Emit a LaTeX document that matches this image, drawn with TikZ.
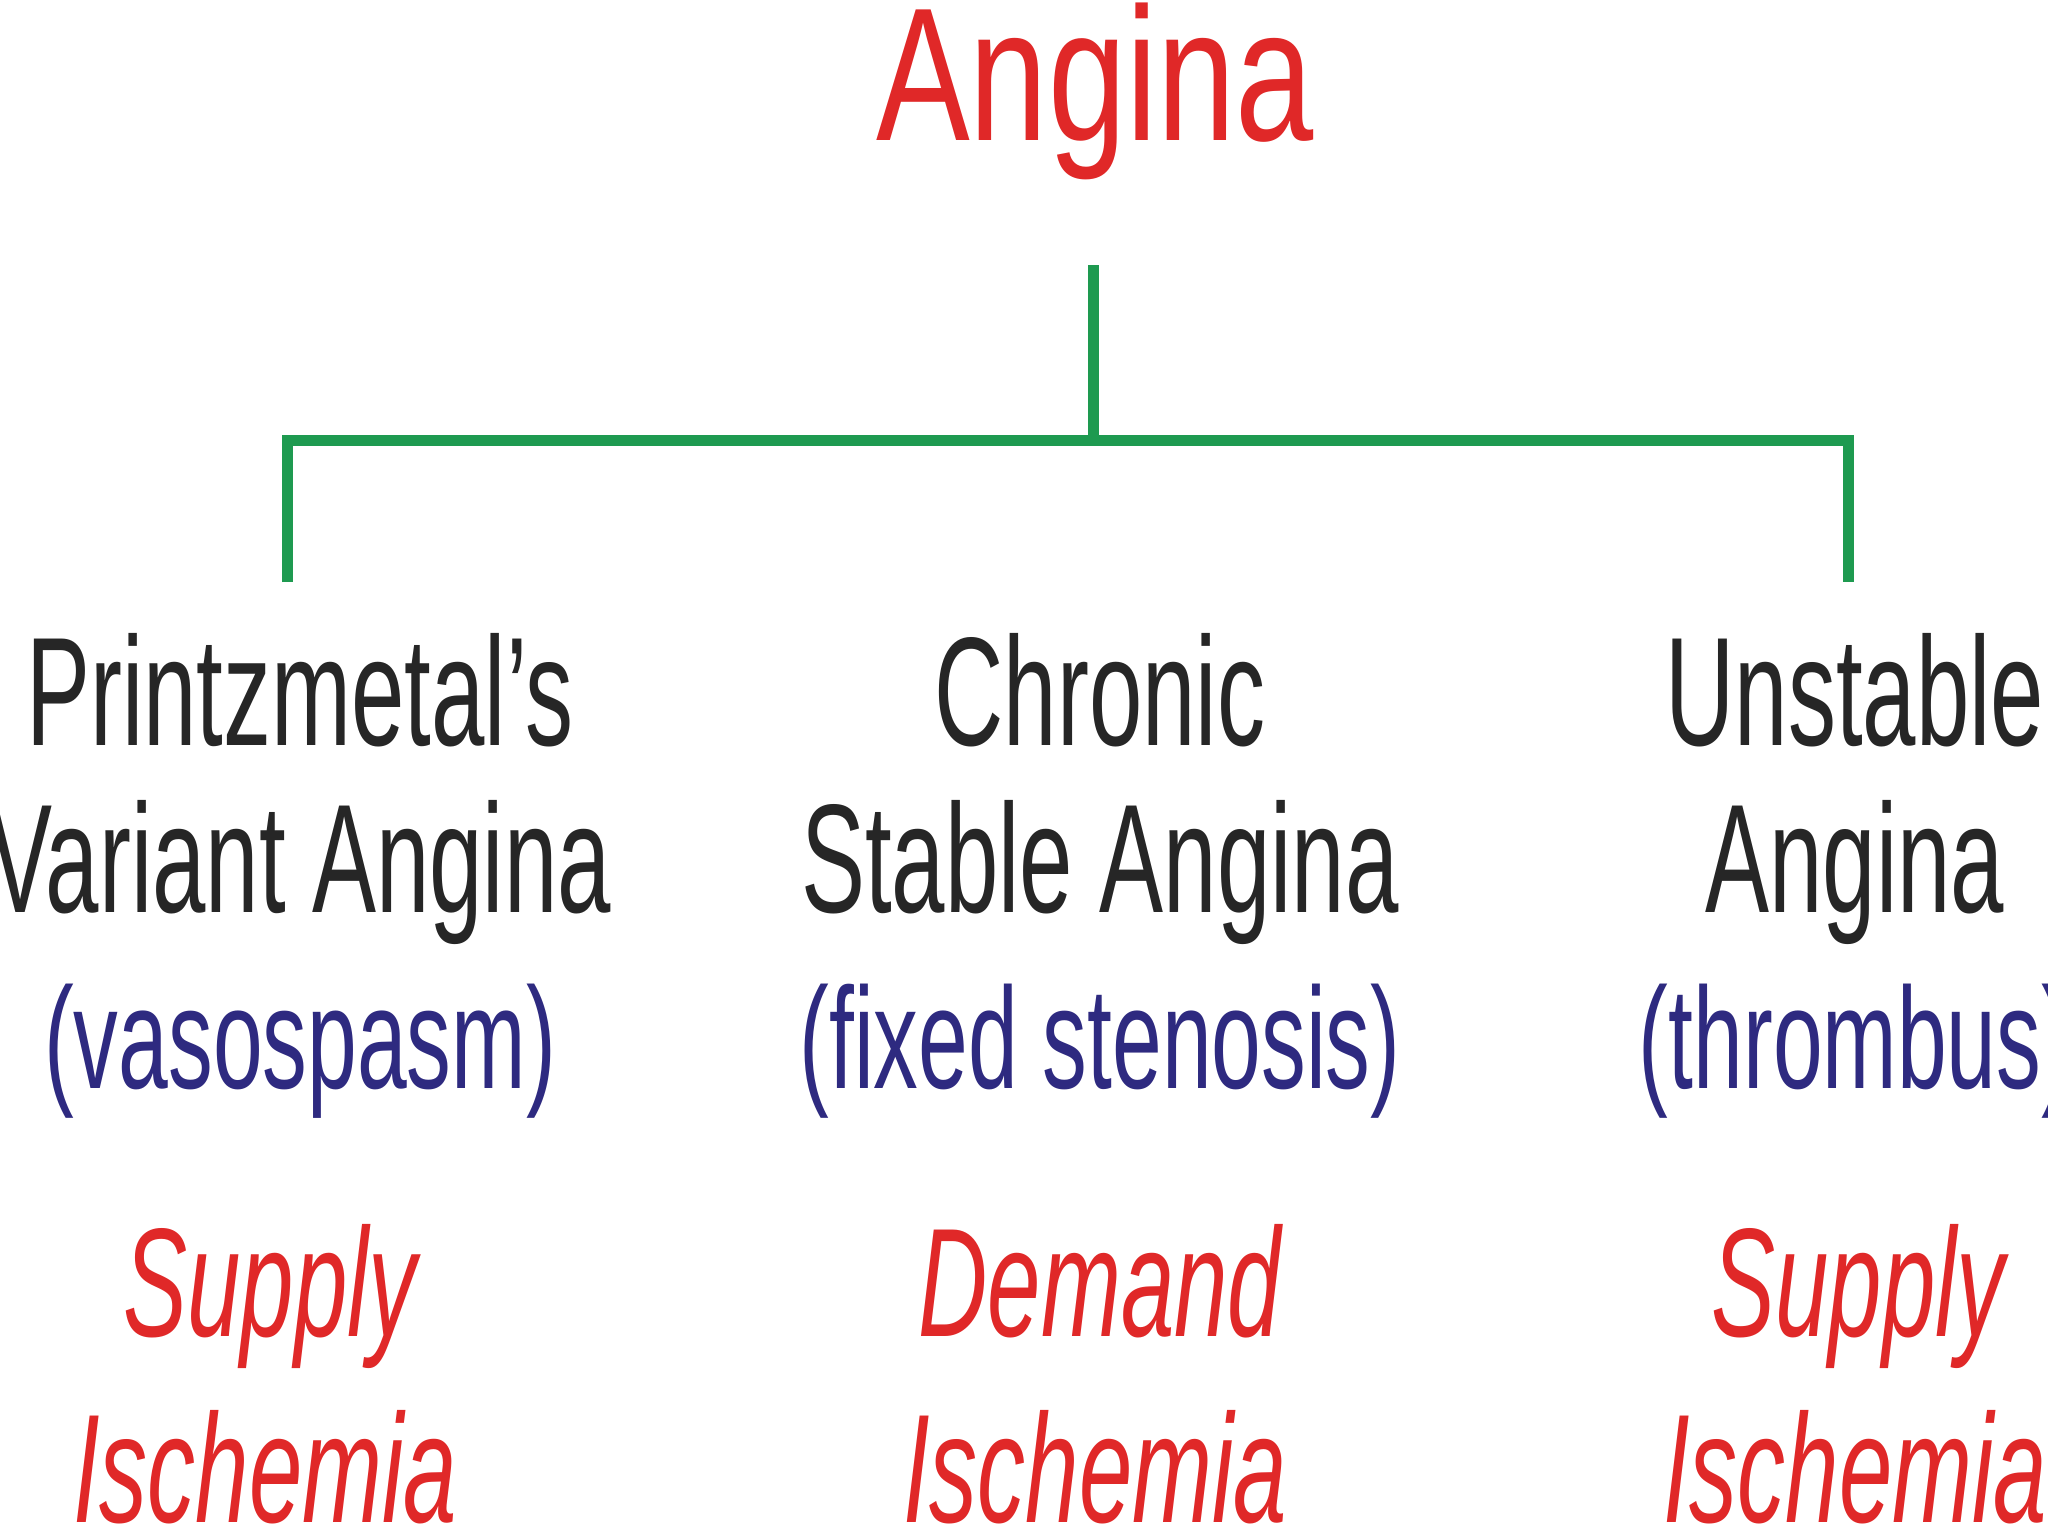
\documentclass[tikz,border=0pt]{standalone}
\usepackage{fontspec}
\setmainfont{Liberation Sans}
\usepackage{graphicx}
\definecolor{tred}{HTML}{E02828}
\definecolor{tblue}{HTML}{2E2A80}
\definecolor{tgreen}{HTML}{1E9A50}
\newcommand{\sqz}[1]{\scalebox{0.62}[1]{#1}}
\begin{document}
\begin{tikzpicture}[x=0.01cm,y=-0.01cm,
  body/.style={anchor=base,inner sep=0,font=\fontsize{44}{50}\selectfont},
  blk/.style={body,text=black!85},
  par/.style={body,text=tblue,font=\fontsize{41}{46}\selectfont},
  isch/.style={body,text=tred,font=\fontsize{44}{50}\selectfont\itshape},
  link/.style={draw=tgreen,line width=0.11cm}]
\useasboundingbox (0,0) rectangle (2048,1536);
\node[anchor=base,inner sep=0,text=tred,font=\fontsize{54}{60}\selectfont] (title) at (1095,140) {\scalebox{0.74}[1]{Angina}};
\coordinate (t0) at (1093,265);
\coordinate (hub) at (1093,440);
\coordinate (l1) at (287,440);
\coordinate (l2) at (287,582);
\coordinate (r1) at (1848,440);
\coordinate (r2) at (1848,582);
\draw[link] (t0) -- (hub);
\draw[link] (l2) -- (l1) -- (r1) -- (r2);
% left
\node[blk] (a1) at (300,745) {\sqz{Printzmetal's}};
\node[blk] (a2) at (300,912) {\sqz{Variant Angina}};
\node[par] (a3) at (300,1088) {\sqz{(vasospasm)}};
\node[isch] (a4) at (270,1336) {\sqz{Supply}};
\node[isch] (a5) at (265,1522) {\sqz{Ischemia}};
% middle
\node[blk] (b1) at (1100,745) {\sqz{Chronic}};
\node[blk] (b2) at (1100,912) {\sqz{Stable Angina}};
\node[par] (b3) at (1100,1088) {\sqz{(fixed stenosis)}};
\node[isch] (b4) at (1100,1336) {\sqz{Demand}};
\node[isch] (b5) at (1095,1522) {\sqz{Ischemia}};
% right
\node[blk] (c1) at (1855,745) {\sqz{Unstable}};
\node[blk] (c2) at (1855,912) {\sqz{Angina}};
\node[par] (c3) at (1855,1088) {\sqz{(thrombus)}};
\node[isch] (c4) at (1858,1336) {\sqz{Supply}};
\node[isch] (c5) at (1855,1522) {\sqz{Ischemia}};
\end{tikzpicture}
\end{document}
